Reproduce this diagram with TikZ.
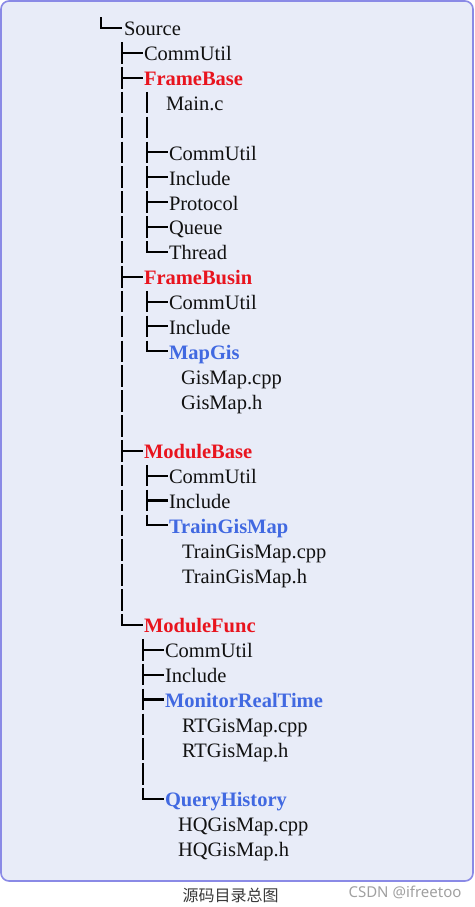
\documentclass[tikz,border=0pt]{standalone}
\usepackage{fontspec}
\setmainfont{Liberation Serif}
\newfontfamily\cjkfont{Noto Sans CJK SC}
\newfontfamily\wmfont{Noto Sans}
\definecolor{boxfill}{HTML}{E8ECF8}
\definecolor{boxborder}{HTML}{8A8AE6}
\definecolor{dirred}{HTML}{E8141E}
\definecolor{dirblue}{HTML}{4169E1}
\definecolor{txtblack}{HTML}{111111}
\definecolor{capgray}{HTML}{3A3A3A}
\definecolor{wmgray}{HTML}{A0A0A0}
\tikzset{
  treeline/.style={line width=2.1pt, black, line join=miter},
  txt/.style={anchor=base west, inner sep=0pt, outer sep=0pt, text=txtblack, font=\fontsize{20.5}{24}\selectfont},
  reddir/.style={txt, text=dirred, font=\fontsize{20.5}{24}\selectfont\bfseries},
  bluedir/.style={txt, text=dirblue, font=\fontsize{20.5}{24}\selectfont\bfseries},
}
% row baseline (y grows downward)
\newcommand\rb[1]{{36+24.87*(#1)}}
\newcommand\tvbar[2]{\draw[treeline] (#1,{28+24.87*(#2)-10.8}) -- (#1,{28+24.87*(#2)+10.8});}
\newcommand\ttee[2]{\draw[treeline] (#1,{28+24.87*(#2)-10.8}) -- (#1,{28+24.87*(#2)+10.8});
  \draw[treeline] (#1,{28+24.87*(#2)}) -- ({#1+21},{28+24.87*(#2)});}
\newcommand\tcorner[2]{\draw[treeline] (#1,{28+24.87*(#2)-10.8}) |- ({#1+21},{28+24.87*(#2)});}
\begin{document}
\begin{tikzpicture}[x={(1pt,0)}, y={(0,-1pt)}]
\useasboundingbox (0,0) rectangle (474,907);
\draw[rounded corners=8pt, draw=boxborder, fill=boxfill, line width=1.6pt] (1,1) rectangle (473,881);

% ---- tree lines ----
\tcorner{101}{0}
\ttee{122}{1}
\ttee{122}{2}
\tvbar{122}{3} \tvbar{147}{3}
\tvbar{122}{4} \tvbar{147}{4}
\foreach \r in {5,6,7,8} {\tvbar{122}{\r} \ttee{147}{\r}}
\tvbar{122}{9} \tcorner{147}{9}
\ttee{122}{10}
\foreach \r in {11,12} {\tvbar{122}{\r} \ttee{147}{\r}}
\tvbar{122}{13} \tcorner{147}{13}
\foreach \r in {14,15,16} {\tvbar{122}{\r}}
\ttee{122}{17}
\foreach \r in {18,19} {\tvbar{122}{\r} \ttee{147}{\r}}
\tvbar{122}{20} \tcorner{147}{20}
\foreach \r in {21,22,23} {\tvbar{122}{\r}}
\tcorner{122}{24}
\foreach \r in {25,26,27} {\ttee{143}{\r}}
\foreach \r in {28,29,30} {\tvbar{143}{\r}}
\tcorner{143}{31}

% ---- labels ----
\node[txt] (src) at (124,\rb{0}) {Source};
\node[txt] (cu1) at (144,\rb{1}) {CommUtil};
\node[reddir] (fb) at (144,\rb{2}) {FrameBase};
\node[txt] (mainc) at (166,\rb{3}) {Main.c};
\node[txt] (fbcu) at (169,\rb{5}) {CommUtil};
\node[txt] (fbinc) at (169,\rb{6}) {Include};
\node[txt] (fbpro) at (169,\rb{7}) {Protocol};
\node[txt] (fbque) at (169,\rb{8}) {Queue};
\node[txt] (fbthr) at (169,\rb{9}) {Thread};
\node[reddir] (fbu) at (144,\rb{10}) {FrameBusin};
\node[txt] (fbucu) at (169,\rb{11}) {CommUtil};
\node[txt] (fbuinc) at (169,\rb{12}) {Include};
\node[bluedir] (mapgis) at (169,\rb{13}) {MapGis};
\node[txt] (gmcpp) at (181,\rb{14}) {GisMap.cpp};
\node[txt] (gmh) at (181,\rb{15}) {GisMap.h};
\node[reddir] (mb) at (144,\rb{17}) {ModuleBase};
\node[txt] (mbcu) at (169,\rb{18}) {CommUtil};
\node[txt] (mbinc) at (169,\rb{19}) {Include};
\node[bluedir] (tgm) at (169,\rb{20}) {TrainGisMap};
\node[txt] (tgmcpp) at (182,\rb{21}) {TrainGisMap.cpp};
\node[txt] (tgmh) at (182,\rb{22}) {TrainGisMap.h};
\node[reddir] (mf) at (144,\rb{24}) {ModuleFunc};
\node[txt] (mfcu) at (165,\rb{25}) {CommUtil};
\node[txt] (mfinc) at (165,\rb{26}) {Include};
\node[bluedir] (mrt) at (165,\rb{27}) {MonitorRealTime};
\node[txt] (rtcpp) at (182,\rb{28}) {RTGisMap.cpp};
\node[txt] (rth) at (182,\rb{29}) {RTGisMap.h};
\node[bluedir] (qh) at (165,\rb{31}) {QueryHistory};
\node[txt] (hqcpp) at (178,\rb{32}) {HQGisMap.cpp};
\node[txt] (hqh) at (178,\rb{33}) {HQGisMap.h};

% ---- caption and watermark ----
\node[inner sep=0pt, text=capgray, font=\cjkfont\fontsize{16}{16}\selectfont] (cap) at (230.5,895) {源码目录总图};
\node[inner sep=0pt, text=wmgray, font=\wmfont\fontsize{15}{15}\selectfont] (wm) at (405,892) {CSDN @ifreetoo};
\end{tikzpicture}
\end{document}
